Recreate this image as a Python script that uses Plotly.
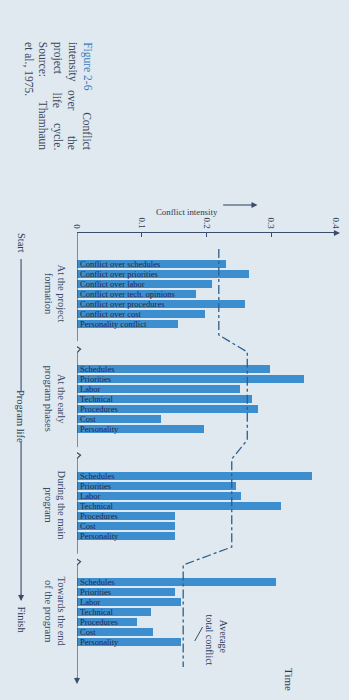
import plotly.graph_objects as go

# ---------------- data ----------------
phases = ["At the project<br>formation", "At the early<br>program phases",
          "During the main<br>program", "Towards the end<br>of the program"]
labels_first = ["Conflict over schedules", "Conflict over priorities", "Conflict over labor",
                "Conflict over tech. opinions", "Conflict over procedures",
                "Conflict over cost", "Personality conflict"]
labels_short = ["Schedules", "Priorities", "Labor", "Technical", "Procedures", "Cost", "Personality"]
formation = [0.230, 0.265, 0.209, 0.184, 0.259, 0.197, 0.156]
early = [0.298, 0.350, 0.251, 0.270, 0.280, 0.130, 0.196]
main = [0.363, 0.246, 0.254, 0.315, 0.152, 0.152, 0.152]
end = [0.307, 0.152, 0.161, 0.115, 0.092, 0.118, 0.160]
average = [0.219, 0.263, 0.239, 0.164]
x_ticks = [0, 0.1, 0.2, 0.3, 0.4]
x_tick_text = ["0", "0.1", "0.2", "0.3", "0.4"]

groups = [formation, early, main, end]
group_labels = [labels_first, labels_short, labels_short, labels_short]

# ---------------- layout constants ----------------
W, H = 349, 700
L, R, T, B = 77, 341, 233, 680
SLOT = 10.0            # px per bar slot
FIRST = 264            # pixel centre of first bar
offsets = [0, 10.5, 21.2, 31.8]

BG = "#dfe9ef"
BAR = "#3d8ecf"
INK = "#2c3a58"
AX = "#3b4d6c"
LINE = "#2f5f8e"
SERIF = "Liberation Serif"


def xp(px):
    return (px - L) / (R - L)


def yp(py):
    return (B - py) / (B - T)


y_top = (T - FIRST) / SLOT
y_bot = (B - FIRST) / SLOT

fig = go.Figure()

for g, (vals, labs) in enumerate(zip(groups, group_labels)):
    ys = [offsets[g] + i for i in range(len(vals))]
    fig.add_trace(go.Bar(
        x=vals, y=ys, orientation="h", width=0.84,
        marker=dict(color=BAR, line=dict(width=0)),
        text=labs, textposition="inside", insidetextanchor="start",
        textangle=0, constraintext="none",
        insidetextfont=dict(family=SERIF, size=8.5, color="#1d2a48"),
        hoverinfo="x", showlegend=False,
    ))

# average total conflict (dash-dot step line)
ax_, ay_ = [], []
n = len(average)
for g, a in enumerate(average):
    start = -1.5 if g == 0 else offsets[g] - 1.7
    stop = offsets[g] + 8.5 if g == n - 1 else offsets[g] + 7.1
    ax_ += [a, a]
    ay_ += [start, stop]
fig.add_trace(go.Scatter(x=ax_, y=ay_, mode="lines",
                         line=dict(color=LINE, width=1.3, dash="dashdot"),
                         hoverinfo="skip", showlegend=False))

# time axis with zig-zag breaks between phases
breaks = [(offsets[g] + 6 + offsets[g + 1]) / 2 for g in range(n - 1)]
dx = 0.0055
zx, zy = [0], [y_top]
for b in breaks:
    zx += [0, -dx, dx, 0]
    zy += [b - 0.6, b - 0.2, b + 0.25, b + 0.6]
zx.append(0)
zy.append(y_bot)
fig.add_trace(go.Scatter(x=zx, y=zy, mode="lines", line=dict(color=AX, width=1.2),
                         cliponaxis=False, hoverinfo="skip", showlegend=False))

annotations = []
shapes = []


def rot(text, x, y, size=10.5, color=INK, yanchor="middle", xanchor="center"):
    annotations.append(dict(text=text, x=xp(x), y=yp(y), xref="paper", yref="paper",
                            showarrow=False, textangle=90, xanchor=xanchor, yanchor=yanchor,
                            font=dict(family=SERIF, size=size, color=color)))


def arrow(x, y, axp, ayp):
    annotations.append(dict(text="", x=xp(x), y=yp(y), xref="paper", yref="paper",
                            ax=axp, ay=ayp, showarrow=True, arrowhead=2, arrowsize=1,
                            arrowwidth=1.2, arrowcolor=AX))


# phase labels
for g, txt in enumerate(phases):
    centre = FIRST + (offsets[g] + 3) * SLOT
    rot(txt, 55, centre, size=10.5, color="#3a4a6a")

# caption (justified lines, rotated)
caption = [(["Figure 2-6", "Conflict"], True),
           (["intensity", "over", "the"], True),
           (["project", "life", "cycle."], True),
           (["Source:", "Thamhaun"], True),
           (["et al., 1975."], False)]
cx = [87, 72, 57, 42, 27]
top_y, bot_y = 40, 152
for (words, just), x in zip(caption, cx):
    for k, w in enumerate(words):
        col = "#3b7bbd" if w == "Figure 2-6" else "#3a4660"
        if not just or len(words) == 1:
            rot(w, x, top_y, size=11.5, color=col, yanchor="top")
        elif k == 0:
            rot(w, x, top_y, size=11.5, color=col, yanchor="top")
        elif k == len(words) - 1:
            rot(w, x, bot_y, size=11.5, color=col, yanchor="bottom")
        else:
            mid = top_y + (bot_y - top_y) * k / (len(words) - 1)
            rot(w, x, mid + 4, size=11.5, color=col)

# program life
rot("Start", 20, 231, size=10.5, yanchor="top")
rot("Program life", 20, 416, size=10.5)
rot("Finish", 20, 604, size=10.5, yanchor="top")
shapes.append(dict(type="line", xref="paper", yref="paper", x0=xp(20), x1=xp(20),
                   y0=yp(259), y1=yp(391), line=dict(color=AX, width=1.1)))
shapes.append(dict(type="line", xref="paper", yref="paper", x0=xp(20), x1=xp(20),
                   y0=yp(442), y1=yp(596), line=dict(color=AX, width=1.1)))
arrow(20, 601, 0, -8)

# time
rot("Time", 293, 680, size=11)
arrow(77, 684, 0, -8)

# conflict intensity
annotations.append(dict(text="Conflict intensity", x=xp(189), y=yp(205), xref="paper", yref="paper",
                        showarrow=False, font=dict(family=SERIF, size=8.8, color=INK)))
shapes.append(dict(type="line", xref="paper", yref="paper", x0=xp(226), x1=xp(255),
                   y0=yp(205), y1=yp(205), line=dict(color=AX, width=1.1)))
arrow(261, 205, -8, 0)

# x axis arrow head
arrow(345, 233, -8, 0)

# average label
rot("Average", 227, 637, size=10)
rot("total conflict", 213, 640, size=10)
shapes.append(dict(type="line", xref="paper", yref="paper", x0=xp(205), x1=xp(197),
                   y0=yp(627), y1=yp(641), line=dict(color=AX, width=1)))

fig.update_layout(
    width=W, height=H,
    margin=dict(l=L, r=W - R, t=T, b=H - B),
    paper_bgcolor=BG, plot_bgcolor=BG,
    bargap=0, showlegend=False,
    annotations=annotations, shapes=shapes,
    xaxis=dict(range=[0, 0.4], side="top", tickvals=x_ticks, ticktext=x_tick_text,
               tickangle=90, ticks="inside", ticklen=4, tickcolor=AX, tickwidth=1,
               showline=True, linecolor=AX, linewidth=1.2, showgrid=False, zeroline=False,
               tickfont=dict(family=SERIF, size=9, color=INK), fixedrange=True),
    yaxis=dict(range=[y_bot, y_top], showticklabels=False, ticks="", showgrid=False,
               zeroline=False, showline=False, fixedrange=True),
)

fig.write_html("out.html")
